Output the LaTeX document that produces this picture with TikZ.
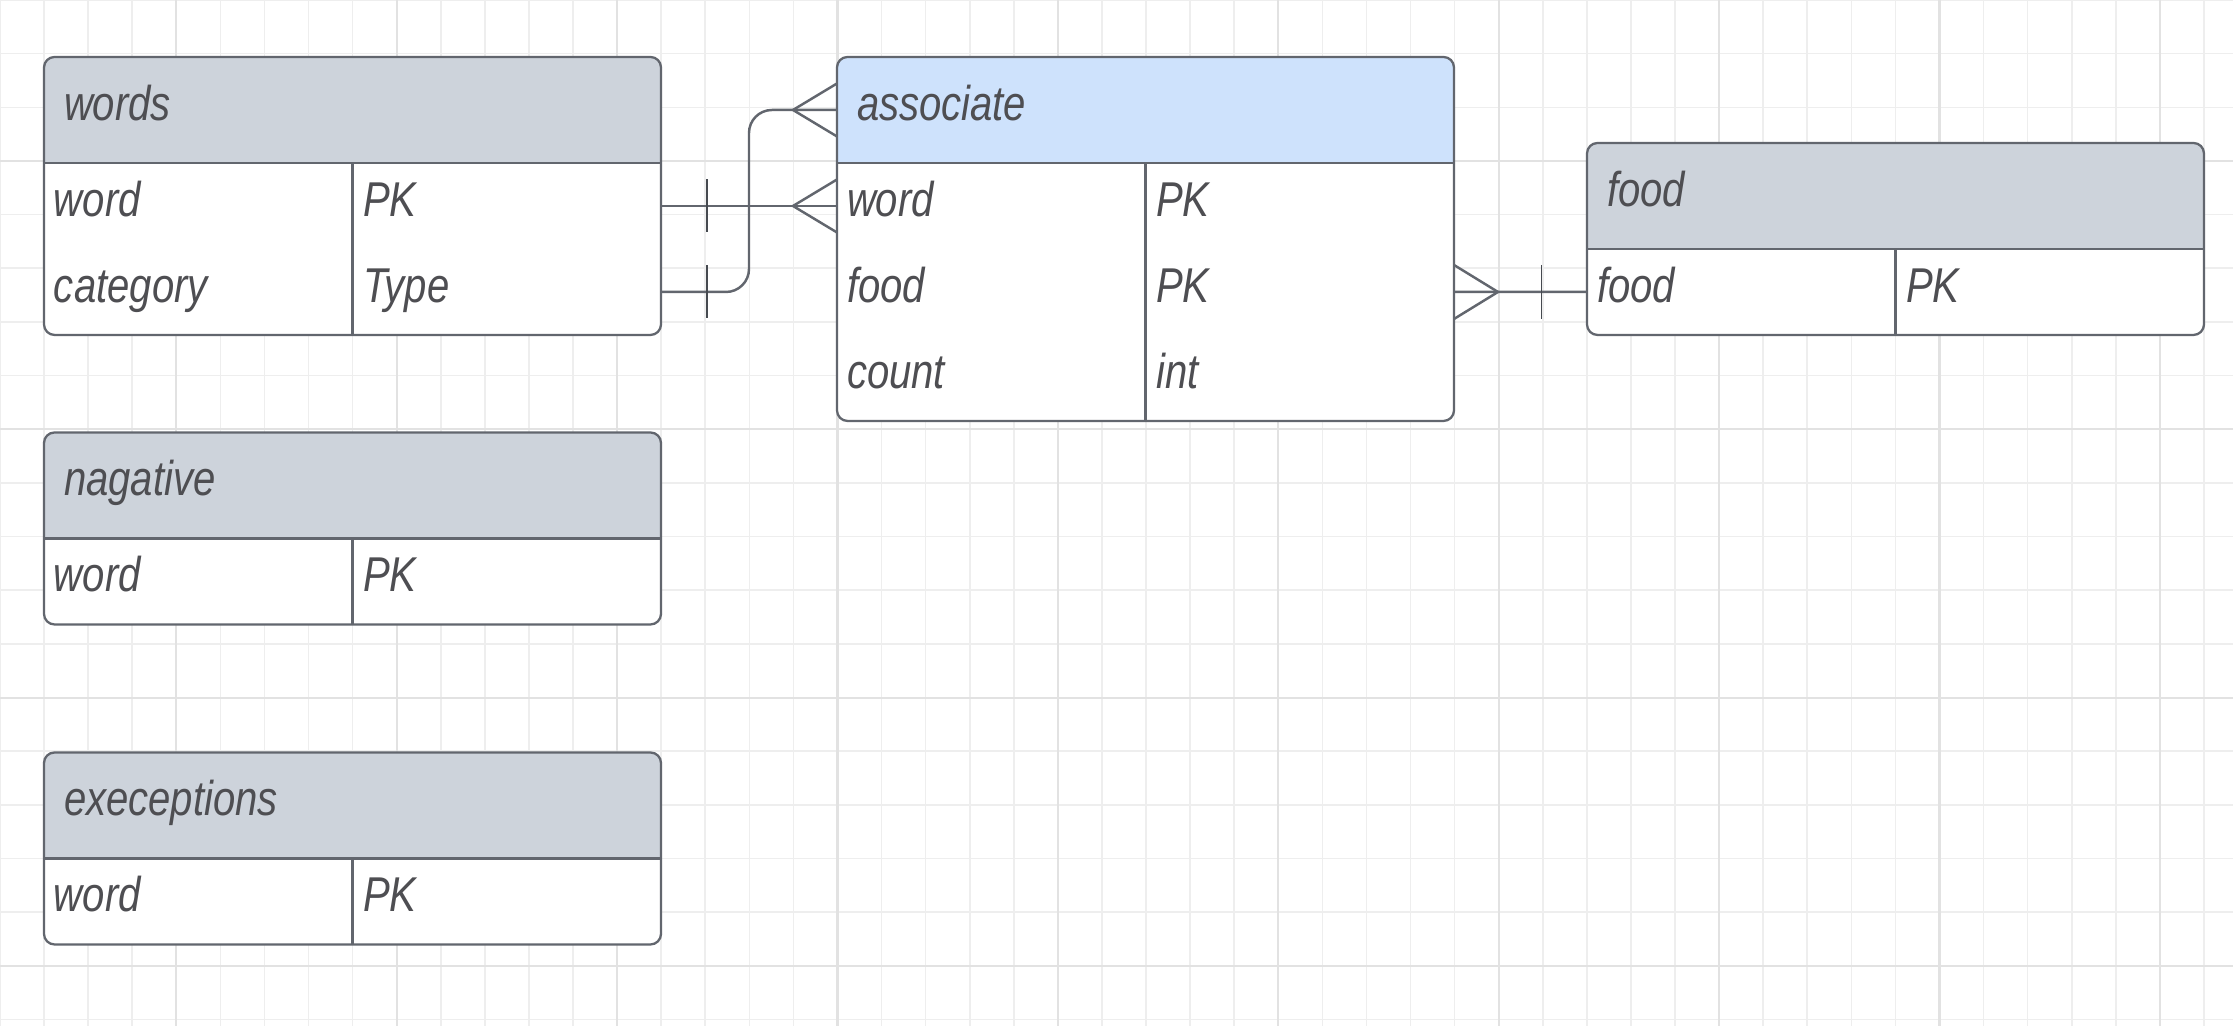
\documentclass[tikz,border=0pt]{standalone}
\usepackage{fontspec}
\setmainfont{Liberation Sans}
\usetikzlibrary{positioning,calc,backgrounds}
\definecolor{gridgray}{RGB}{238,238,238}
\definecolor{gridbold}{RGB}{226,226,226}
\definecolor{hdrgray}{RGB}{205,211,219}
\definecolor{hdrblue}{RGB}{206,226,252}
\definecolor{linegray}{RGB}{98,102,110}
\definecolor{tickgray}{RGB}{70,74,80}
\definecolor{txtgray}{RGB}{78,78,82}
\newcommand{\Tx}[1]{\scalebox{1}[1.22]{#1}}

\begin{document}
\begin{tikzpicture}[font=\fontsize{11.4}{13}\selectfont\itshape,
	hdr/.style={anchor=north west, minimum width=6.17cm, minimum height=1.06cm, text width=5.77cm,
		inner sep=0pt, outer sep=0pt, align=left, text height=0.3cm, text depth=0.09cm, text=txtgray},
	fld/.style={minimum width=6.17cm, minimum height=0.86cm, text width=5.97cm,
		inner sep=0pt, outer sep=0pt, align=left, text height=0.3cm, text depth=0.09cm, text=txtgray},
	key/.style={anchor=west, inner sep=0pt, xshift=0.1cm, text height=0.3cm, text depth=0.09cm, text=txtgray},
	tbl/.style={draw=linegray, line width=0.65pt, rounded corners=3pt},
	sep/.style={draw=linegray, line width=0.75pt},
	conn/.style={draw=linegray, line width=0.7pt},
	tick/.style={draw=tickgray, line width=0.55pt},
	gridline/.style={draw=gridgray, line width=0.45pt},
	gridmajor/.style={draw=gridbold, line width=0.6pt}]
	
	%----------------------------
	% Page and grid
	%----------------------------
	\useasboundingbox (0,0) rectangle (22.33,10.26);
	\begin{scope}[on background layer]
		\fill[white] (0,0) rectangle (22.33,10.26);
		\foreach \i in {0,...,50}
		\draw[gridline] (\i*0.4408,0) -- (\i*0.4408,10.26);
		\foreach \j in {0,...,19}
		\draw[gridline] (0,10.26-\j*0.5366) -- (22.33,10.26-\j*0.5366);
		\foreach \i in {4,9,...,49}
		\draw[gridmajor] (\i*0.4408,0) -- (\i*0.4408,10.26);
		\foreach \j in {3,8,13,18}
		\draw[gridmajor] (0,10.26-\j*0.5366) -- (22.33,10.26-\j*0.5366);
	\end{scope}
	
	%----------------------------
	% Tables
	%----------------------------
	% words
	\node[hdr] (words) at (0.44,9.69) {\Tx{words}};
	\node[fld, below=0pt of words] (words-word) {\Tx{word}};
	\node[fld, below=0pt of words-word] (words-category) {\Tx{category}};
	\node[key] (words-k1) at (words-word.center) {\Tx{PK}};
	\node[key] (words-k2) at (words-category.center) {\Tx{Type}};
	
	% associate
	\node[hdr] (assoc) at (8.37,9.69) {\Tx{associate}};
	\node[fld, below=0pt of assoc] (assoc-word) {\Tx{word}};
	\node[fld, below=0pt of assoc-word] (assoc-food) {\Tx{food}};
	\node[fld, below=0pt of assoc-food] (assoc-count) {\Tx{count}};
	\node[key] (assoc-k1) at (assoc-word.center) {\Tx{PK}};
	\node[key] (assoc-k2) at (assoc-food.center) {\Tx{PK}};
	\node[key] (assoc-k3) at (assoc-count.center) {\Tx{int}};
	
	% food
	\node[hdr] (food) at (15.87,8.83) {\Tx{food}};
	\node[fld, below=0pt of food] (food-food) {\Tx{food}};
	\node[key] (food-k1) at (food-food.center) {\Tx{PK}};
	
	% nagative
	\node[hdr] (neg) at (0.44,5.935) {\Tx{nagative}};
	\node[fld, below=0pt of neg] (neg-word) {\Tx{word}};
	\node[key] (neg-k1) at (neg-word.center) {\Tx{PK}};
	
	% execeptions
	\node[hdr] (exc) at (0.44,2.735) {\Tx{execeptions}};
	\node[fld, below=0pt of exc] (exc-word) {\Tx{word}};
	\node[key] (exc-k1) at (exc-word.center) {\Tx{PK}};
	
	% fills under the texts
	\begin{scope}[on background layer]
		\foreach \hd/\lw/\col in {words/words-category/hdrgray, assoc/assoc-count/hdrblue,
			food/food-food/hdrgray, neg/neg-word/hdrgray, exc/exc-word/hdrgray}{
			\begin{scope}
				\clip[rounded corners=3pt] (\hd.north west) rectangle (\lw.south east);
				\fill[white] (\hd.north west) rectangle (\lw.south east);
				\fill[\col] (\hd.north west) rectangle (\hd.south east);
			\end{scope}
		}
	\end{scope}
	
	% frames, header lines and column lines
	\foreach \hd/\lw in {words/words-category, assoc/assoc-count, food/food-food,
		neg/neg-word, exc/exc-word}{
		\draw[tbl] (\hd.north west) rectangle (\lw.south east);
		\draw[sep] (\hd.south west) -- (\hd.south east);
		\draw[tbl] (\hd.south) -- (\lw.south);
	}
	
	%----------------------------
	% Relations
	%----------------------------
	% words.word -> associate.word
	\draw[conn] (words-word.east) -- (assoc-word.west);
	
	% words.category -> associate
	\draw[conn, rounded corners=0.23cm] (words-category.east)
	-| ($(words-category.east)!0.5!(assoc.west)$) |- (assoc.west);
	
	% associate.food -> food.food
	\draw[conn] (assoc-food.east) -- (food-food.west);
	
	% one ends
	\foreach \a in {words-word, words-category}
	\draw[tick] ($(\a.east)+(0.46,0.265)$) -- ($(\a.east)+(0.46,-0.265)$);
	\draw[tick] ($(food-food.west)+(-0.455,0.27)$) -- ($(food-food.west)+(-0.455,-0.27)$);
	
	% many ends (crow's feet)
	\foreach \a in {assoc, assoc-word}
	\draw[conn] ($(\a.west)+(0,0.265)$) -- ($(\a.west)+(-0.44,0)$) -- ($(\a.west)+(0,-0.265)$);
	\draw[conn] ($(assoc-food.east)+(0,0.27)$) -- ($(assoc-food.east)+(0.44,0)$)
	-- ($(assoc-food.east)+(0,-0.27)$);
	
\end{tikzpicture}
\end{document}
